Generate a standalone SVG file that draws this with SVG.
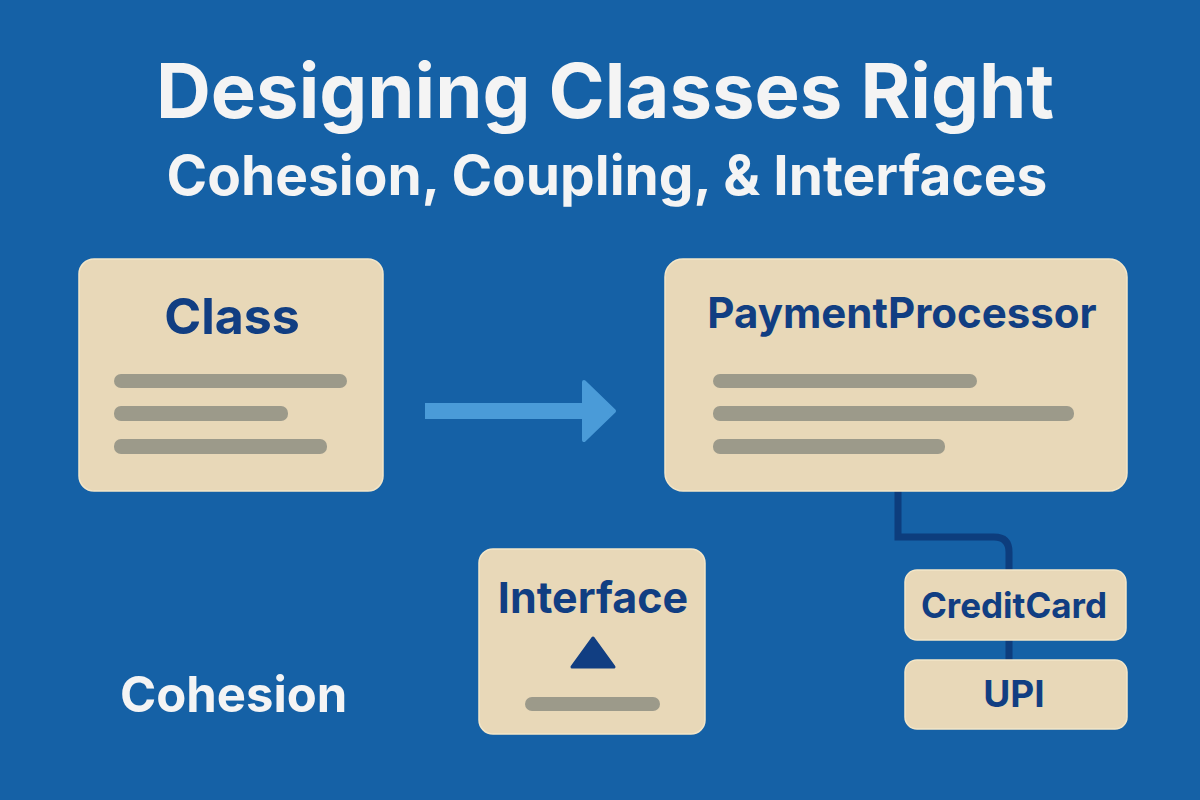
<svg xmlns="http://www.w3.org/2000/svg" width="1200" height="800" viewBox="0 0 1200 800">
<style>
.box{fill:#e8d8b8;stroke:#f3e6c8;stroke-width:1.5}
.bar{fill:#9c9a8a}
.lbl{font-family:Inter,"Liberation Sans",sans-serif;font-weight:700;fill:#113e82;text-anchor:middle}
.w{font-family:Inter,"Liberation Sans",sans-serif;font-weight:700;fill:#f4f4f4}
.conn{fill:none;stroke:#0d3d7d;stroke-width:7}
</style>
<rect width="1200" height="800" fill="#1561a6"/>
<text class="w" x="605" y="118" font-size="76" text-anchor="middle">Designing Classes Right</text>
<text class="w" x="607" y="195" font-size="55" text-anchor="middle">Cohesion, Coupling, &amp; Interfaces</text>
<text class="w" x="120" y="712" font-size="49">Cohesion</text>
<g id="connectors">
<path class="conn" d="M898 491 V537 H994 Q1009 537 1009 552 V572"/>
<path class="conn" d="M1009 638 V662"/>
<g id="arrow">
<line x1="425" y1="411" x2="596" y2="411" stroke="#4a9bd8" stroke-width="16"/>
<path d="M584 382 L614 411 L584 440 Z" fill="#4a9bd8" stroke="#4a9bd8" stroke-width="4" stroke-linejoin="round"/>
</g>
</g>
<g id="class">
<rect class="box" x="79" y="259" width="304" height="232" rx="15"/>
<text class="lbl" x="232" y="334" font-size="50">Class</text>
<rect class="bar" x="114" y="374" width="233" height="14" rx="7"/>
<rect class="bar" x="114" y="406" width="174" height="15" rx="7"/>
<rect class="bar" x="114" y="439" width="213" height="15" rx="7"/>
</g>
<g id="paymentprocessor">
<rect class="box" x="665" y="259" width="462" height="232" rx="18"/>
<text class="lbl" x="902" y="328" font-size="42">PaymentProcessor</text>
<rect class="bar" x="713" y="374" width="264" height="14" rx="7"/>
<rect class="bar" x="713" y="406" width="361" height="15" rx="7"/>
<rect class="bar" x="713" y="439" width="232" height="15" rx="7"/>
</g>
<g id="interface">
<rect class="box" x="479" y="549" width="226" height="185" rx="14"/>
<text class="lbl" x="593" y="613" font-size="43">Interface</text>
<path d="M593 638 L614 667 L572 667 Z" fill="#113e82" stroke="#113e82" stroke-width="3" stroke-linejoin="round"/>
<rect class="bar" x="525" y="697" width="135" height="14" rx="7"/>
</g>
<g id="creditcard">
<rect class="box" x="905" y="570" width="221" height="70" rx="12"/>
<text class="lbl" x="1014" y="618" font-size="35">CreditCard</text>
</g>
<g id="upi">
<rect class="box" x="905" y="660" width="222" height="69" rx="12"/>
<text class="lbl" x="1014" y="707" font-size="37">UPI</text>
</g>
</svg>
